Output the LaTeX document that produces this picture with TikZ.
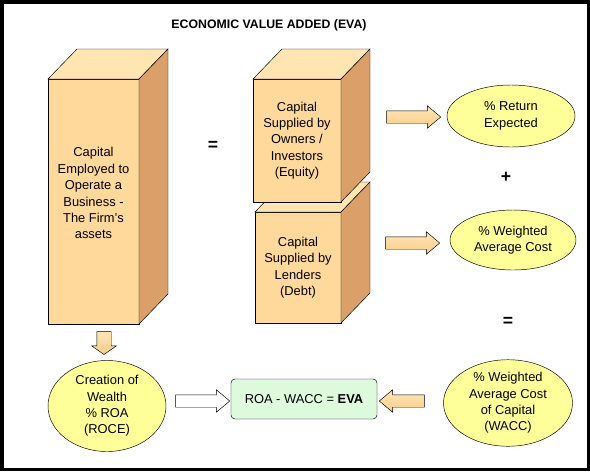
\documentclass[tikz,border=0pt]{standalone}
\usepackage{fontspec}
\setmainfont{Liberation Sans}
\usetikzlibrary{shapes.geometric,shapes.arrows}
\newlength\px
\setlength\px{0.03cm}
\definecolor{front}{RGB}{255,217,155}
\definecolor{lid}{RGB}{255,229,178}
\definecolor{side}{RGB}{219,160,106}
\definecolor{oval}{RGB}{255,255,153}
\definecolor{mint}{RGB}{221,250,221}
\definecolor{arup}{RGB}{255,230,180}
\definecolor{ardn}{RGB}{248,204,140}
\tikzset{ fc/.style = { rectangle % front face of a box
, draw
, fill = front
, outer sep = 0
, align = center
, font = \fontsize{11}{14}\selectfont
}
, el/.style = { ellipse % oval
, draw
, fill = oval
, inner sep = 0
, align = center
, font = \fontsize{11}{14}\selectfont
}
, ar/.style = { single arrow % block arrow
, draw
, inner sep = 6\px
, single arrow head extend = 5\px
, single arrow tip angle = 80
, top color = arup
, bottom color = ardn
}
, ev/.style = { rectangle % result box
, draw
, fill = mint
, rounded corners = 4\px
, minimum width = 146\px
, minimum height = 40\px
, font = \fontsize{11}{14}\selectfont
}
, sg/.style = { font = \fontsize{15}{16}\selectfont\bfseries % sign
}
}
\def\blok(#1,#2,#3,#4)#5#6{% box: centre, width, height
\node[fc, minimum width=#3\px, minimum height=#4\px] (#5) at (#1,#2) {#6};
\filldraw[fill=lid] (#5.north west) -- ++(29,-30) -- ++(#3,0) -- (#5.north east) -- cycle;
\filldraw[fill=side] (#5.north east) -- ++(29,-30) -- ++(0,#4) -- (#5.south east) -- cycle;
}

\begin{document}
\begin{tikzpicture}[x=\px, y=-\px]
                    \useasboundingbox (0,0) rectangle (590,471);
                    \draw[line width=3.5\px] (1.75,1.75) rectangle (588.25,469.25);
                    \node[font=\fontsize{10.5}{12}\selectfont\bfseries] (title) at (269,25) {ECONOMIC VALUE ADDED (EVA)};

                    \blok(93.5,201.5,91,245){cap}{Capital\\Employed to\\Operate a\\Business -\\The Firm's\\assets\\[0\px]}
                    \blok(298,267.5,86,111){debt}{Capital\\Supplied by\\Lenders\\(Debt)}
                    \blok(297,140.5,88,123){eq}{Capital\\Supplied by\\Owners /\\Investors\\(Equity)}

                    \node[sg] (eqa) at (213,146) {=};
                    \node[sg] (plus) at (506,177) {+};
                    \node[sg] (eqb) at (508,322) {=};

                    \node[el, minimum width=128\px, minimum height=62\px] (ret) at (511,116) {\% Return\\Expected};
                    \node[el, minimum width=126\px, minimum height=60\px] (wac) at (513,240) {\% Weighted\\Average Cost};
                    \node[el, minimum width=118\px, minimum height=91\px] (roa) at (107,406) {Creation of\\Wealth\\\% ROA\\(ROCE)};
                    \node[el, minimum width=129\px, minimum height=83\px] (wacc) at (508,403) {\% Weighted\\Average Cost\\of Capital\\(WACC)};
                    \node[ev] (eva) at (304,399) {ROA - WACC = \textbf{EVA}};

                    \foreach \x/\y/\l/\r/\n in {410/117/54/0/ara, 409/243/54/0/arb, 405.5/401/45/180/arc}
                        \node[ar, minimum height=\l\px, shape border rotate=\r] (\n) at (\x,\y) {};
                    \node[ar, minimum height=23\px, inner sep=7\px, single arrow tip angle=110, shape border rotate=270] (ard) at (104,340.5) {};
                    \node[ar, minimum height=54\px, fill=white, top color=white, bottom color=white] (are) at (199,401) {};
\end{tikzpicture}
\end{document}
